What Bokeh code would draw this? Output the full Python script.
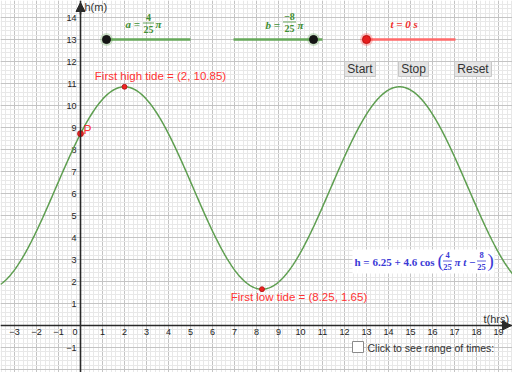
import numpy as np
from bokeh.plotting import figure
from bokeh.models import (Range1d, Grid, SingleIntervalTicker, Span, Arrow, NormalHead)
from bokeh.core.properties import value
from bokeh.embed import file_html
from bokeh.resources import INLINE

# ---------------- data ----------------
midline = 6.25
amplitude = 4.6
a_coef = 4 / 25 * np.pi
b_coef = -8 / 25 * np.pi

tide_t = [2, 8.25]
tide_h = [10.85, 1.65]
tide_labels = ["First high tide = (2, 10.85)", "First low tide = (8.25, 1.65)"]

p_t = [0]
p_h = [8.72]

x_ticks = [-3, -2, -1, 1, 2, 3, 4, 5, 6, 7, 8, 9, 10, 11, 12, 13, 14, 15, 16, 17, 18, 19]
y_ticks = [-1, 1, 2, 3, 4, 5, 6, 7, 8, 9, 10, 11, 12, 13, 14]
x_tick_labels = [str(v).replace("-", "\u2212") for v in x_ticks]
y_tick_labels = [str(v).replace("-", "\u2212") for v in y_ticks]

buttons = ["Start", "Stop", "Reset"]

# ---------------- layout helpers (reference pixel -> data) ----------------
def dx(px):
    return (px - 80) / 22.0

def dy(py):
    return (325 - py) / 22.0

SANS = value("Liberation Sans")
SERIF = value("Liberation Serif")
RED = "#ff3333"
GREEN_T = "#3f8f33"
BLUE = "#3a3ad6"
AX = "#2a2a2a"

p = figure(width=512, height=372, output_backend="svg", toolbar_location=None,
           x_range=Range1d(dx(0), dx(512)), y_range=Range1d(dy(372), dy(0)),
           x_axis_location=None, y_axis_location=None, min_border=0,
           outline_line_color=None, background_fill_color="white")

# grids
for dim in (0, 1):
    g = Grid(dimension=dim, ticker=SingleIntervalTicker(interval=1, num_minor_ticks=5),
             grid_line_color="#c4c4c4", grid_line_width=1,
             minor_grid_line_color="#e8e8e8", minor_grid_line_width=1)
    p.add_layout(g)

# axes
p.add_layout(Span(location=0, dimension="width", line_color=AX, line_width=1.6))
p.add_layout(Span(location=0, dimension="height", line_color=AX, line_width=1.6))
p.add_layout(Arrow(end=NormalHead(size=9, fill_color=AX, line_color=AX),
                   x_start=dx(500), y_start=0, x_end=dx(511), y_end=0,
                   line_color=AX, line_width=1.6))
p.add_layout(Arrow(end=NormalHead(size=9, fill_color=AX, line_color=AX),
                   x_start=0, y_start=dy(14), x_end=0, y_end=dy(2),
                   line_color=AX, line_width=1.6))

# tick labels
p.text(x=x_ticks, y=[dy(331)] * len(x_ticks), text=x_tick_labels, text_font=SANS,
       text_font_size="9px", text_color="#222222", text_align="center",
       text_baseline="middle")
p.text(x=[dx(76)] * len(y_ticks), y=y_ticks, text=y_tick_labels, text_font=SANS,
       text_font_size="9px", text_color="#222222", text_align="right",
       text_baseline="middle")
p.text(x=[dx(77)], y=[dy(331)], text=["0"], text_font=SANS, text_font_size="9px",
       text_color="#222222", text_align="right", text_baseline="middle")
p.text(x=[dx(84)], y=[dy(6)], text=["h(m)"], text_font=SANS, text_font_size="11px",
       text_color="#333333", text_align="left", text_baseline="middle")
p.text(x=[dx(483)], y=[dy(318)], text=["t(hrs)"], text_font=SANS, text_font_size="11px",
       text_color="#333333", text_align="left", text_baseline="middle")

# curve
t = np.linspace(dx(0), dx(512), 800)
h = midline + amplitude * np.cos(a_coef * t + b_coef)
p.line(t, h, line_color="#5e9e50", line_width=1.5)

# tide points and labels
p.scatter(tide_t, tide_h, size=5, fill_color="#ee2222", line_color="#aa1111", line_width=0.8)
p.text(x=[tide_t[0]], y=[tide_h[0]], text=[tide_labels[0]], x_offset=36, y_offset=-11,
       text_font=SANS, text_font_size="11.5px", text_color=RED, text_align="center",
       text_baseline="middle")
p.text(x=[tide_t[1]], y=[tide_h[1]], text=[tide_labels[1]], x_offset=37, y_offset=8,
       text_font=SANS, text_font_size="11.5px", text_color=RED, text_align="center",
       text_baseline="middle")

# point P
p.scatter(p_t, p_h, size=6, fill_color="#ee2222", line_color="#aa1111", line_width=0.8)
p.text(x=p_t, y=p_h, text=["P"], x_offset=3, y_offset=-4, text_font=SANS,
       text_font_size="12px", text_color=RED, text_align="left", text_baseline="middle")

# sliders
slider_y = 13
p.line([dx(106), dx(190)], [slider_y, slider_y], line_color="#66a85a", line_width=2.5)
p.line([dx(233), dx(322)], [slider_y, slider_y], line_color="#66a85a", line_width=2.5)
p.line([dx(366), dx(455)], [slider_y, slider_y], line_color="#ff6a6a", line_width=2.5)
p.scatter([dx(106), dx(313)], [slider_y, slider_y], size=13, fill_color="#5e9e50",
          fill_alpha=0.3, line_color=None)
p.scatter([dx(106), dx(313)], [slider_y, slider_y], size=8, fill_color="#151515",
          line_color="#151515")
p.scatter([dx(366)], [slider_y], size=13, fill_color="#ff3333", fill_alpha=0.3, line_color=None)
p.scatter([dx(366)], [slider_y], size=8, fill_color="#e61e1e", line_color="#c01010")

def math_text(px, py, s, color, size="10.5px", align="left", style="bold italic"):
    p.text(x=[dx(px)], y=[dy(py)], text=[s], text_font=SERIF, text_font_size=size,
           text_color=color, text_align=align, text_baseline="middle",
           text_font_style=style)

def frac(pxc, py, num, den, color, w, size="9px"):
    math_text(pxc, py - 6, num, color, size=size, align="center", style="bold")
    math_text(pxc, py + 6, den, color, size=size, align="center", style="bold")
    p.line([dx(pxc - w / 2), dx(pxc + w / 2)], [dy(py), dy(py)], line_color=color,
           line_width=0.8)

# slider labels
math_text(125, 23, "a =", GREEN_T, size="11px")
frac(148, 22.5, "4", "25", GREEN_T, 11, size="10px")
math_text(155, 23, "\u03c0", GREEN_T, size="11px")
math_text(265, 24, "b =", GREEN_T, size="11px")
frac(289, 21.5, "\u22128", "25", GREEN_T, 13, size="10px")
math_text(297, 24, "\u03c0", GREEN_T, size="11px")
math_text(390, 23, "t = 0 s", "#f03030", size="11px")

# buttons
btn_left = [344, 398, 454]
btn_right = [375, 428, 491]
p.quad(left=[dx(v) for v in btn_left], right=[dx(v) for v in btn_right],
       top=[dy(61)] * 3, bottom=[dy(76)] * 3, fill_color="#e4e4e4",
       line_color="#c8c8c8", line_width=1)
p.text(x=[dx((l + r) / 2) for l, r in zip(btn_left, btn_right)], y=[dy(68.5)] * 3,
       text=buttons, text_font=SANS, text_font_size="12px", text_color="#333333",
       text_align="center", text_baseline="middle")

# formula box
p.quad(left=[dx(352)], right=[dx(494)], top=[dy(249)], bottom=[dy(273)],
       fill_color="white", line_color=None)
math_text(354, 261, "h = 6.25 + 4.6 cos", BLUE, size="11px", style="bold")
math_text(437, 260, "(", BLUE, size="19px", style="normal")
frac(447, 260.5, "4", "25", BLUE, 9, size="8.5px")
math_text(454, 261, "\u03c0 t \u2212", BLUE, size="11px", style="bold italic")
frac(481, 260.5, "8", "25", BLUE, 9, size="8.5px")
math_text(487, 260, ")", BLUE, size="19px", style="normal")

# checkbox
p.quad(left=[dx(352)], right=[dx(363)], top=[dy(341)], bottom=[dy(352)],
       fill_color="white", line_color="#8a8a8a", line_width=1)
p.text(x=[dx(367)], y=[dy(347)], text=["Click to see range of times:"], text_font=SANS,
       text_font_size="10.5px", text_color="#333333", text_align="left",
       text_baseline="middle")

open("out.html", "w").write(file_html(p, INLINE))
